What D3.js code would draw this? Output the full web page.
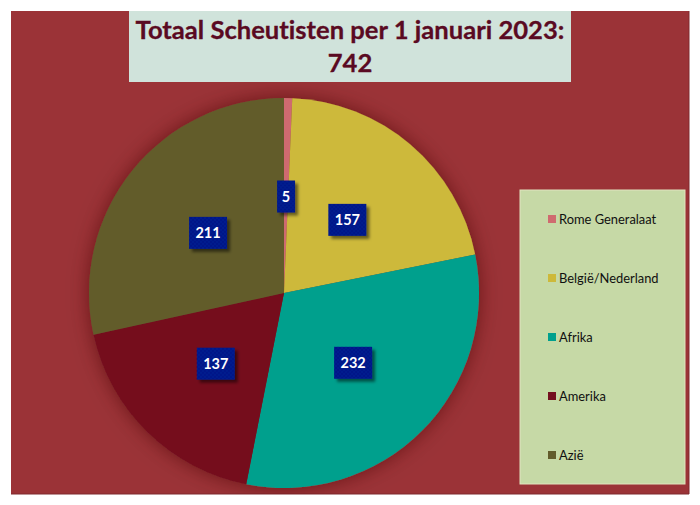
<!DOCTYPE html>
<html>
<head>
<meta charset="utf-8">
<script src="https://cdn.jsdelivr.net/npm/d3@7/dist/d3.min.js"></script>
<style>
  html, body { margin: 0; padding: 0; background: #fff; }
  svg { display: block; font-family: Lato, "Open Sans", sans-serif; font-variant-ligatures: none; }
</style>
</head>
<body>
<div id="chart"></div>
<script>
const titleLines = ["Totaal Scheutisten per 1 januari 2023:", "742"];
const categories = ["Rome Generalaat", "België/Nederland", "Afrika", "Amerika", "Azië"];
const values = [5, 157, 232, 137, 211];
const sliceColors = ["#cf6b6f", "#cdb93a", "#00a08d", "#74101f", "#625c2b"];

const width = 700, height = 505;
const cx = 284, cy = 293, radius = 195;

const svg = d3.select("#chart").append("svg")
    .attr("width", width)
    .attr("height", height);

const defs = svg.append("defs");

defs.append("clipPath").attr("id", "frameClip")
    .append("rect")
    .attr("x", 11).attr("y", 11).attr("width", 678).attr("height", 483);

const pieShadow = defs.append("filter").attr("id", "pieShadow")
    .attr("x", "-20%").attr("y", "-20%").attr("width", "140%").attr("height", "140%");
pieShadow.append("feDropShadow")
    .attr("dx", 0).attr("dy", 0).attr("stdDeviation", 10)
    .attr("flood-color", "#4a0612").attr("flood-opacity", 0.6);

const boxShadow = defs.append("filter").attr("id", "boxShadow")
    .attr("x", "-40%").attr("y", "-40%").attr("width", "190%").attr("height", "190%");
boxShadow.append("feDropShadow")
    .attr("dx", 3).attr("dy", 3).attr("stdDeviation", 1.8)
    .attr("flood-color", "#000").attr("flood-opacity", 0.5);

const dots = defs.append("pattern").attr("id", "dots")
    .attr("width", 4).attr("height", 4).attr("patternUnits", "userSpaceOnUse");
dots.append("rect").attr("width", 4).attr("height", 4).attr("fill", "#001688");
dots.append("circle").attr("cx", 1).attr("cy", 1).attr("r", 0.7).attr("fill", "#0a2a9c");
dots.append("circle").attr("cx", 3).attr("cy", 3).attr("r", 0.7).attr("fill", "#0a2a9c");

// red slide background
svg.append("rect")
    .attr("x", 11).attr("y", 11).attr("width", 678).attr("height", 483)
    .attr("fill", "#9b3337");
svg.append("path")
    .attr("d", "M11,494H689V11")
    .attr("fill", "none")
    .attr("stroke", "#7e2a2e")
    .attr("stroke-width", 1);

// pie
const pie = d3.pie().sort(null).value(d => d);
const arcs = pie(values);
const arc = d3.arc().innerRadius(0).outerRadius(radius);
const labelArc = d3.arc().innerRadius(radius / 2).outerRadius(radius / 2);

const g = svg.append("g")
    .attr("clip-path", "url(#frameClip)")
    .append("g")
    .attr("transform", `translate(${cx}, ${cy})`);

g.append("g").attr("filter", "url(#pieShadow)")
    .selectAll("path")
    .data(arcs)
    .enter()
    .append("path")
    .attr("d", arc)
    .attr("fill", (d, i) => sliceColors[i]);

// value labels, sitting about on the centroid of each slice
const label = g.selectAll("g.label")
    .data(arcs)
    .enter()
    .append("g")
    .attr("class", "label")
    .attr("transform", d => {
        const c = labelArc.centroid(d);
        return `translate(${c[0]}, ${c[1] + 1})`;
    });

label.append("rect")
    .attr("x", d => d.value < 10 ? -9 : -19)
    .attr("y", -16)
    .attr("width", d => d.value < 10 ? 18 : 38)
    .attr("height", 32)
    .attr("fill", "url(#dots)")
    .attr("filter", "url(#boxShadow)");

label.append("text")
    .text(d => d.value)
    .attr("text-anchor", "middle")
    .attr("dy", "0.36em")
    .attr("fill", "#fff")
    .style("font-size", "14.5px")
    .style("font-weight", "700");

// title box
svg.append("rect")
    .attr("x", 129).attr("y", 11).attr("width", 442).attr("height", 71)
    .attr("fill", "#d0e3db");

svg.selectAll("text.title")
    .data(titleLines)
    .enter()
    .append("text")
    .attr("class", "title")
    .text(d => d)
    .attr("x", 350)
    .attr("y", (d, i) => 39 + i * 33)
    .attr("text-anchor", "middle")
    .attr("fill", "#5a0a22")
    .attr("stroke", "#5a0a22")
    .attr("stroke-width", 0.3)
    .style("font-size", "25.6px")
    .style("font-weight", "700");

// legend
svg.append("rect")
    .attr("x", 520).attr("y", 190).attr("width", 165).attr("height", 294)
    .attr("fill", "#c6d9a6")
    .attr("stroke", "#e2e3bf")
    .attr("stroke-width", 1);

const legendY = d3.scalePoint().domain(categories).range([219, 455]);

const legend = svg.selectAll("g.legend")
    .data(categories)
    .enter()
    .append("g")
    .attr("class", "legend")
    .attr("transform", d => `translate(548, ${legendY(d)})`);

legend.append("rect")
    .attr("y", -4)
    .attr("width", 8)
    .attr("height", 8)
    .attr("fill", (d, i) => sliceColors[i]);

legend.append("text")
    .text(d => d)
    .attr("x", 11)
    .attr("dy", "0.35em")
    .attr("fill", "#101010")
    .style("font-size", "12.9px");
</script>
</body>
</html>
